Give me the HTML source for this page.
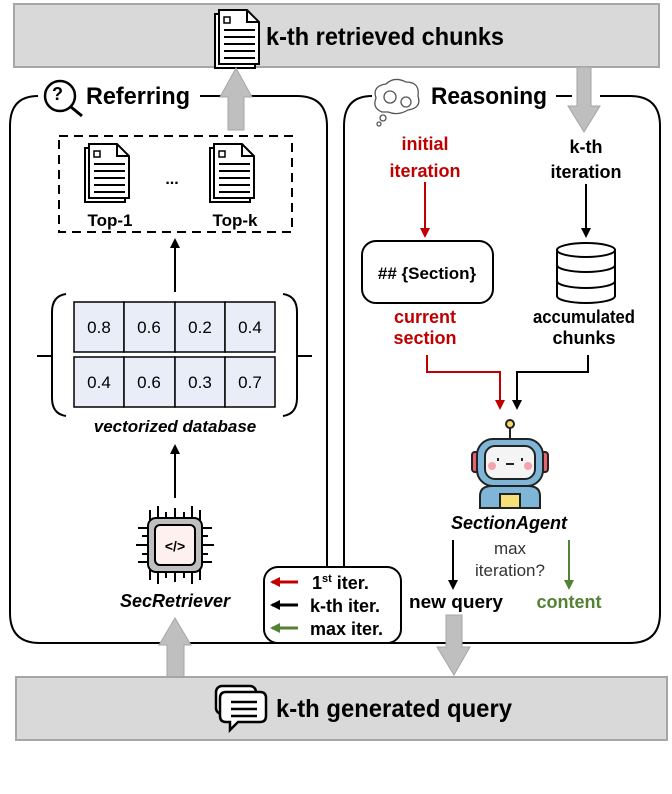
<!DOCTYPE html>
<html><head><meta charset="utf-8"><style>
html,body{margin:0;padding:0;background:#fff;}
svg{display:block;}
text{font-family:"Liberation Sans",sans-serif;}
</style></head><body>
<svg width="672" height="794" viewBox="0 0 672 794" xmlns="http://www.w3.org/2000/svg">
<defs>
<marker id="ab" markerWidth="10" markerHeight="10" refX="8" refY="5" orient="auto" markerUnits="userSpaceOnUse"><path d="M0,0 L10,5 L0,10 Z" fill="#000"/></marker>
<marker id="ar" markerWidth="10" markerHeight="10" refX="8" refY="5" orient="auto" markerUnits="userSpaceOnUse"><path d="M0,0 L10,5 L0,10 Z" fill="#c00000"/></marker>
<marker id="ag" markerWidth="10" markerHeight="10" refX="8" refY="5" orient="auto" markerUnits="userSpaceOnUse"><path d="M0,0 L10,5 L0,10 Z" fill="#548235"/></marker>
<g id="doc"><path d="M0,4 h28 l12,12 v42 h-40 z" fill="#fff" stroke="#000" stroke-width="2"/><path d="M4,0 h28 l12,12 v42 h-40 z" fill="#fff" stroke="#000" stroke-width="2"/><path d="M32,0 v12 h12" fill="none" stroke="#000" stroke-width="2"/><rect x="9" y="7" width="6" height="6" fill="none" stroke="#000" stroke-width="1.5"/><g stroke="#000" stroke-width="2"><line x1="9" y1="20" x2="40" y2="20"/><line x1="9" y1="27" x2="40" y2="27"/><line x1="9" y1="34" x2="40" y2="34"/><line x1="9" y1="41" x2="40" y2="41"/><line x1="9" y1="48" x2="40" y2="48"/></g></g>
</defs>

<rect x="14" y="4" width="645" height="63" fill="#d9d9d9" stroke="#a6a6a6" stroke-width="2"/>
<use href="#doc" x="215" y="10"/>
<text x="266" y="45" font-size="25" font-weight="bold" textLength="238" lengthAdjust="spacingAndGlyphs">k-th retrieved chunks</text>

<path d="M38,96 Q10,96 10,126 V613 Q10,643 40,643 H297 Q327,643 327,613 V126 Q327,96 297,96 H250" fill="none" stroke="#000" stroke-width="2"/>
<line x1="200" y1="96" x2="226" y2="96" stroke="#000" stroke-width="2"/>
<path d="M372,96 Q344,96 344,126 V613 Q344,643 374,643 H630 Q660,643 660,613 V126 Q660,96 630,96 H600" fill="none" stroke="#000" stroke-width="2"/>
<line x1="556" y1="96" x2="572" y2="96" stroke="#000" stroke-width="2"/>
<rect x="264" y="567" width="137" height="76" rx="14" fill="#fff" stroke="#000" stroke-width="2"/>

<circle cx="60" cy="96" r="15" fill="none" stroke="#000" stroke-width="2.5"/>
<line x1="71" y1="107" x2="82" y2="116" stroke="#000" stroke-width="3"/>
<text x="52" y="100" font-size="18" font-weight="bold">?</text>
<text x="86" y="104" font-size="24" font-weight="bold" textLength="104" lengthAdjust="spacingAndGlyphs">Referring</text>
<g fill="none" stroke="#555" stroke-width="1.3"><path d="M382,112 q-10,-4 -6,-14 q-4,-12 10,-14 q8,-8 20,-2 q14,0 12,14 q4,12 -10,14 q-10,6 -20,2 z"/><circle cx="390" cy="97" r="6"/><circle cx="406" cy="102" r="5"/><circle cx="383" cy="118" r="3"/><circle cx="379" cy="124" r="2"/></g>
<text x="431" y="104" font-size="24" font-weight="bold" textLength="116" lengthAdjust="spacingAndGlyphs">Reasoning</text>

<path d="M228,130 V97 H220 L236,68 L252,97 H244 V130 Z" fill="#bfbfbf" stroke="#a6a6a6"/>
<path d="M577,67 V106 H568 L584,132 L600,106 H591 V67 Z" fill="#bfbfbf" stroke="#a6a6a6"/>
<path d="M167,677 V645 H159 L175,618 L191,645 H184 V677 Z" fill="#bfbfbf" stroke="#a6a6a6"/>
<path d="M446,615 V647 H437 L454,675 L470,647 H462 V615 Z" fill="#bfbfbf" stroke="#a6a6a6"/>

<rect x="59" y="136" width="233" height="96" fill="none" stroke="#000" stroke-width="2" stroke-dasharray="9,6"/>
<use href="#doc" x="85" y="144"/>
<use href="#doc" x="210" y="144"/>
<text x="172" y="184" font-size="16" text-anchor="middle" font-weight="bold">...</text>
<text x="110" y="226" font-size="17" font-weight="bold" text-anchor="middle">Top-1</text>
<text x="235" y="226" font-size="17" font-weight="bold" text-anchor="middle">Top-k</text>
<line x1="175" y1="292" x2="175" y2="240" stroke="#000" stroke-width="2" marker-end="url(#ab)"/>

<g fill="#e9edf7" stroke="#000" stroke-width="1.5">
<rect x="74" y="302" width="50" height="50"/><rect x="124" y="302" width="51" height="50"/><rect x="175" y="302" width="50" height="50"/><rect x="225" y="302" width="50" height="50"/>
<rect x="74" y="357" width="50" height="50"/><rect x="124" y="357" width="51" height="50"/><rect x="175" y="357" width="50" height="50"/><rect x="225" y="357" width="50" height="50"/>
</g>
<g font-size="17" text-anchor="middle">
<text x="99" y="333">0.8</text><text x="149" y="333">0.6</text><text x="200" y="333">0.2</text><text x="250" y="333">0.4</text>
<text x="99" y="388">0.4</text><text x="149" y="388">0.6</text><text x="200" y="388">0.3</text><text x="250" y="388">0.7</text>
</g>
<g fill="none" stroke="#000" stroke-width="2">
<path d="M66,294 Q52,296 52,312 V398 Q52,414 66,416"/><path d="M283,294 Q297,296 297,312 V398 Q297,414 283,416"/>
<line x1="37" y1="356" x2="52" y2="356"/><line x1="297" y1="356" x2="312" y2="356"/>
</g>
<text x="175" y="432" font-size="17" font-weight="bold" font-style="italic" text-anchor="middle">vectorized database</text>
<line x1="175" y1="498" x2="175" y2="446" stroke="#000" stroke-width="2" marker-end="url(#ab)"/>

<g stroke="#000" stroke-width="2" fill="none">
<path d="M150,520 v-10 M158,520 v-14 M166,520 v-8 M175,520 v-12 M184,520 v-8 M192,520 v-14 M200,520 v-10"/>
<path d="M150,570 v10 M158,570 v14 M166,570 v8 M175,570 v12 M184,570 v8 M192,570 v14 M200,570 v10"/>
<path d="M150,528 h-12 M150,536 h-8 M150,545 h-14 M150,554 h-8 M150,562 h-12"/>
<path d="M200,528 h12 M200,536 h8 M200,545 h14 M200,554 h8 M200,562 h12"/>
</g>
<rect x="148" y="518" width="54" height="54" rx="8" fill="#bfbfbf" stroke="#000" stroke-width="2"/>
<rect x="155" y="525" width="40" height="40" rx="5" fill="#fdf0ef" stroke="#000" stroke-width="2"/>
<text x="175" y="551" font-size="14" text-anchor="middle" font-weight="bold">&lt;/&gt;</text>
<text x="175" y="607" font-size="18" font-weight="bold" font-style="italic" text-anchor="middle">SecRetriever</text>

<text x="425" y="150" font-size="18" font-weight="bold" fill="#c00000" text-anchor="middle">initial</text>
<text x="425" y="177" font-size="18" font-weight="bold" fill="#c00000" text-anchor="middle">iteration</text>
<line x1="425" y1="182" x2="425" y2="236" stroke="#c00000" stroke-width="2" marker-end="url(#ar)"/>
<text x="586" y="153" font-size="18" font-weight="bold" text-anchor="middle">k-th</text>
<text x="586" y="178" font-size="18" font-weight="bold" text-anchor="middle">iteration</text>
<line x1="586" y1="184" x2="586" y2="236" stroke="#000" stroke-width="2" marker-end="url(#ab)"/>
<rect x="362" y="241" width="131" height="62" rx="14" fill="#fff" stroke="#000" stroke-width="2"/>
<text x="427" y="279" font-size="17" font-weight="bold" text-anchor="middle">## {Section}</text>
<g fill="#fff" stroke="#000" stroke-width="2">
<path d="M557,250 V296 A29,7 0 0 0 615,296 V250"/>
<ellipse cx="586" cy="250" rx="29" ry="7"/>
<path d="M557,265 A29,7 0 0 0 615,265 M557,281 A29,7 0 0 0 615,281" fill="none"/>
</g>
<text x="425" y="323" font-size="18" font-weight="bold" fill="#c00000" text-anchor="middle">current</text>
<text x="425" y="344" font-size="18" font-weight="bold" fill="#c00000" text-anchor="middle">section</text>
<text x="584" y="323" font-size="18" font-weight="bold" text-anchor="middle" textLength="102" lengthAdjust="spacingAndGlyphs">accumulated</text>
<text x="584" y="344" font-size="18" font-weight="bold" text-anchor="middle">chunks</text>
<path d="M427,355 V372 H500 V408" fill="none" stroke="#c00000" stroke-width="2" marker-end="url(#ar)"/>
<path d="M588,355 V372 H517 V408" fill="none" stroke="#000" stroke-width="2" marker-end="url(#ab)"/>

<g stroke="#222" stroke-width="2">
<line x1="510" y1="428" x2="510" y2="440"/>
<circle cx="510" cy="424" r="4" fill="#f5d76e"/>
<rect x="472" y="452" width="8" height="20" rx="3" fill="#e8636b"/>
<rect x="540" y="452" width="8" height="20" rx="3" fill="#e8636b"/>
<path d="M480,508 V496 Q480,486 492,486 H528 Q540,486 540,496 V508 Z" fill="#7fb6d8"/>
<rect x="500" y="494" width="20" height="14" fill="#f5e07a"/>
<rect x="477" y="439" width="66" height="47" rx="16" fill="#7fb6d8"/>
<rect x="485" y="446" width="50" height="33" rx="10" fill="#f4f4f4"/>
</g>
<circle cx="492" cy="466" r="4" fill="#f4a3ad"/><circle cx="528" cy="466" r="4" fill="#f4a3ad"/>
<line x1="498" y1="458" x2="498" y2="461" stroke="#222" stroke-width="2"/><line x1="522" y1="458" x2="522" y2="461" stroke="#222" stroke-width="2"/>
<line x1="506" y1="464" x2="514" y2="464" stroke="#222" stroke-width="2"/>
<text x="509" y="529" font-size="18" font-weight="bold" font-style="italic" text-anchor="middle">SectionAgent</text>
<line x1="453" y1="540" x2="453" y2="588" stroke="#000" stroke-width="2" marker-end="url(#ab)"/>
<line x1="569" y1="540" x2="569" y2="588" stroke="#548235" stroke-width="2" marker-end="url(#ag)"/>
<text x="510" y="554" font-size="17" text-anchor="middle" fill="#333">max</text>
<text x="510" y="576" font-size="17" text-anchor="middle" fill="#333">iteration?</text>
<text x="456" y="608" font-size="18" font-weight="bold" text-anchor="middle" textLength="94" lengthAdjust="spacingAndGlyphs">new query</text>
<text x="569" y="608" font-size="18" font-weight="bold" fill="#548235" text-anchor="middle">content</text>

<line x1="298" y1="582" x2="272" y2="582" stroke="#c00000" stroke-width="3" marker-end="url(#ar)"/>
<line x1="298" y1="605" x2="272" y2="605" stroke="#000" stroke-width="3" marker-end="url(#ab)"/>
<line x1="298" y1="628" x2="272" y2="628" stroke="#548235" stroke-width="3" marker-end="url(#ag)"/>
<text x="312" y="589" font-size="18" font-weight="bold">1<tspan font-size="11" dy="-7">st</tspan><tspan dy="7"> iter.</tspan></text>
<text x="310" y="612" font-size="18" font-weight="bold">k-th iter.</text>
<text x="310" y="635" font-size="18" font-weight="bold">max iter.</text>

<rect x="16" y="677" width="651" height="63" fill="#d9d9d9" stroke="#a6a6a6" stroke-width="2"/>
<g stroke="#000" stroke-width="2.5" fill="#fff">
<rect x="216" y="686" width="40" height="28" rx="6"/>
<path d="M226,692 h34 q6,0 6,6 v18 q0,6 -6,6 h-22 l-8,8 v-8 h-4 q-6,0 -6,-6 v-18 q0,-6 6,-6 z"/>
<path d="M231,702 h26 M231,709 h26 M231,716 h26" fill="none"/>
</g>
<text x="276" y="717" font-size="25" font-weight="bold" textLength="236" lengthAdjust="spacingAndGlyphs">k-th generated query</text>
</svg>
</body></html>
